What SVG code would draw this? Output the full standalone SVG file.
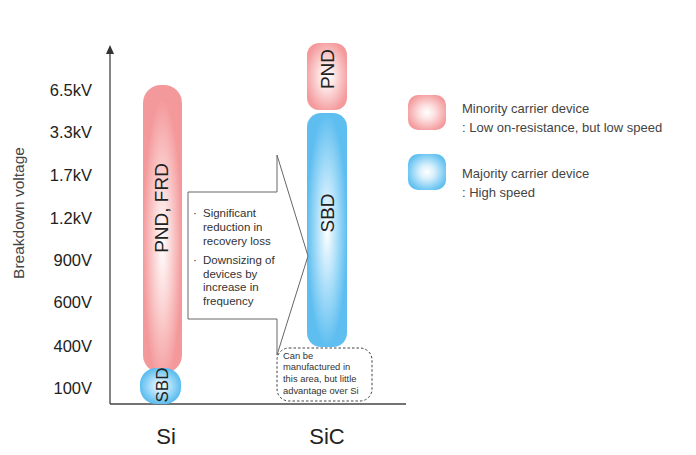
<svg xmlns="http://www.w3.org/2000/svg" width="696" height="455" viewBox="0 0 696 455">
<defs>
<radialGradient id="gp" cx="0.5" cy="0.55" r="0.5">
<stop offset="0" stop-color="#ffffff"/>
<stop offset="0.45" stop-color="#fbd3d3"/>
<stop offset="1" stop-color="#f4999b"/>
</radialGradient>
<radialGradient id="gb" cx="0.5" cy="0.5" r="0.5">
<stop offset="0" stop-color="#ffffff"/>
<stop offset="0.45" stop-color="#b4e2fa"/>
<stop offset="1" stop-color="#5ebef0"/>
</radialGradient>
<radialGradient id="gpl" cx="0.5" cy="0.5" r="0.55">
<stop offset="0" stop-color="#ffffff"/>
<stop offset="0.35" stop-color="#fde3e3"/>
<stop offset="1" stop-color="#f49a9c"/>
</radialGradient>
<radialGradient id="gbl" cx="0.5" cy="0.5" r="0.55">
<stop offset="0" stop-color="#ffffff"/>
<stop offset="0.35" stop-color="#d8f0fc"/>
<stop offset="1" stop-color="#60c0f0"/>
</radialGradient>
</defs>
<style>
.t{font-family:"Liberation Sans",Arial,sans-serif;fill:#222}
.yl{font-size:16.5px;text-anchor:end}
.bar{font-size:19px;text-anchor:middle}
.sm{font-size:11.5px;fill:#333}
.xs{font-size:9.4px;fill:#333}
.lg{font-size:13px;fill:#444}
.ax{font-size:22px;text-anchor:middle}
</style>
<rect width="696" height="455" fill="#fff"/>
<g id="axes">
<line x1="110" y1="404" x2="110" y2="52" stroke="#444" stroke-width="1.3"/>
<polygon points="110,45 106,54 114,54" fill="#333"/>
<line x1="110" y1="404" x2="406" y2="404" stroke="#444" stroke-width="1.3"/>
<text class="t" font-size="15.5" text-anchor="middle" transform="translate(24 213) rotate(-90)" style="fill:#444">Breakdown voltage</text>
<text class="t yl" x="92" y="96">6.5kV</text>
<text class="t yl" x="92" y="138">3.3kV</text>
<text class="t yl" x="92" y="181">1.7kV</text>
<text class="t yl" x="92" y="224">1.2kV</text>
<text class="t yl" x="92" y="266">900V</text>
<text class="t yl" x="92" y="308">600V</text>
<text class="t yl" x="92" y="352">400V</text>
<text class="t yl" x="92" y="394">100V</text>
<text class="t ax" x="166" y="444">Si</text>
<text class="t ax" x="327" y="444">SiC</text>
</g>
<g id="si-pnd">
<rect x="143" y="85" width="39" height="288" rx="18" fill="url(#gp)"/>
<text class="t bar" transform="translate(168 208) rotate(-90)">PND, FRD</text>
</g>
<g id="si-sbd">
<rect x="140" y="368" width="41" height="36" rx="16" fill="url(#gb)"/>
<text class="t" font-size="17" text-anchor="middle" transform="translate(168 385) rotate(-90)">SBD</text>
</g>
<g id="sic-pnd">
<rect x="307" y="43" width="40" height="67" rx="12" fill="url(#gpl)"/>
<text class="t bar" transform="translate(334 69) rotate(-90)">PND</text>
</g>
<g id="sic-sbd">
<rect x="307" y="113" width="40" height="234" rx="14" fill="url(#gb)"/>
<text class="t bar" transform="translate(334 213) rotate(-90)">SBD</text>
</g>
<g id="arrow">
<path d="M188,192 H277 V155 L308,256 L277,355 V319 H188 Z" fill="#fff" stroke="#666" stroke-width="1"/>
<text class="t sm"><tspan x="193" y="217">·</tspan><tspan x="203" y="217">Significant</tspan><tspan x="203" y="231">reduction in</tspan><tspan x="203" y="245">recovery loss</tspan><tspan x="193" y="264">·</tspan><tspan x="203" y="264">Downsizing of</tspan><tspan x="203" y="278">devices by</tspan><tspan x="203" y="291">increase in</tspan><tspan x="203" y="305">frequency</tspan></text>
</g>
<g id="note">
<rect x="277" y="348" width="95" height="53" rx="12" fill="#fff" stroke="#444" stroke-width="1" stroke-dasharray="2.5,2"/>
<text class="t xs"><tspan x="283" y="359">Can be</tspan><tspan x="283" y="370">manufactured in</tspan><tspan x="283" y="382">this area, but little</tspan><tspan x="283" y="394">advantage over Si</tspan></text>
</g>
<g id="legend">
<rect x="408" y="95" width="38" height="35" rx="10" fill="url(#gpl)"/>
<rect x="408" y="154" width="38" height="36" rx="10" fill="url(#gbl)"/>
<text class="t lg" x="462" y="113">Minority carrier device</text>
<text class="t lg" x="462" y="132">: Low on-resistance, but low speed</text>
<text class="t lg" x="462" y="178">Majority carrier device</text>
<text class="t lg" x="462" y="197">: High speed</text>
</g>
</svg>
